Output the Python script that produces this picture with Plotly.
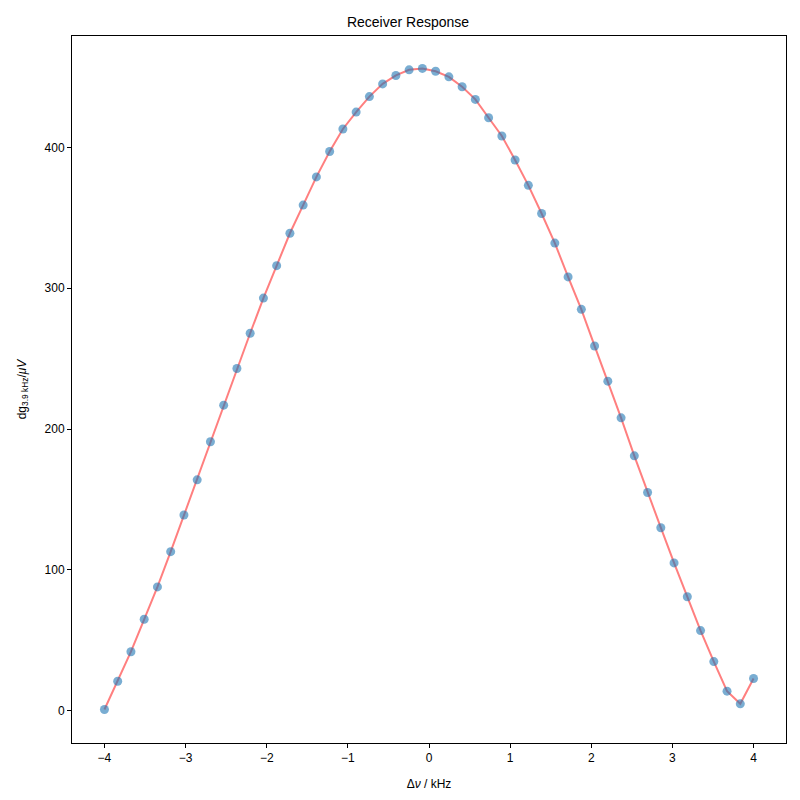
import numpy as np
import plotly.graph_objects as go

# frequency offset in kHz (50 evenly spaced samples from -4 to 4)
freq = np.linspace(-4, 4, 50)
response = [1, 21, 42, 65, 88, 113, 139, 164, 191, 217, 243, 268, 293, 316, 339,
            359, 379, 397, 413, 425, 436, 445, 451, 455, 456,
            454, 450, 443, 434, 421, 408, 391, 373, 353, 332, 308, 285, 259, 234,
            208, 181, 155, 130, 105, 81, 57, 35, 14, 5, 23]

fig = go.Figure()
fig.add_trace(go.Scatter(x=freq, y=response, mode="lines",
                         line=dict(color="rgba(255,0,0,0.5)", width=2)))
fig.add_trace(go.Scatter(x=freq, y=response, mode="markers",
                         marker=dict(color="rgba(31,119,180,0.6)", size=9)))

axis = dict(showline=True, linecolor="black", mirror=True, ticks="outside",
            ticklen=4, tickcolor="black", showgrid=False, zeroline=False,
            tickfont=dict(size=12, color="black"))
fig.update_xaxes(**axis, range=[-4.4, 4.4], dtick=1,
                 title=dict(text="Δ<i>ν</i> / kHz", font=dict(size=12, color="black")))
fig.update_yaxes(**axis, range=[-22.8, 479], tickvals=[0, 100, 200, 300, 400],
                 title=dict(text="dg<sub>3.9 kHz</sub>/<i>μV</i>", font=dict(size=12, color="black")))
fig.update_layout(
    width=800, height=800, showlegend=False,
    plot_bgcolor="white", paper_bgcolor="white",
    font=dict(family="Liberation Sans, Arial, sans-serif"),
    margin=dict(l=64, r=22, t=28, b=65),
    title=dict(text="Receiver Response", x=0.5, xanchor="center",
               yref="container", y=0.983, yanchor="middle",
               font=dict(size=14, color="black")),
)
fig.write_html("out.html")
